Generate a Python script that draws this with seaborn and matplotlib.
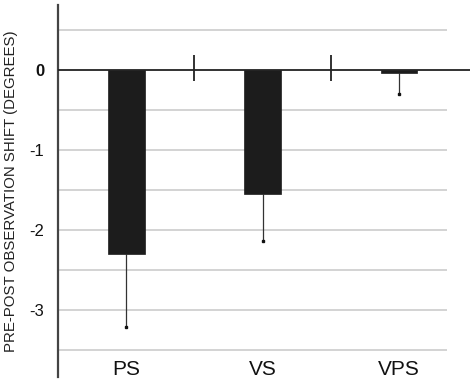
import matplotlib
matplotlib.use("Agg")
import matplotlib.pyplot as plt
import seaborn as sns
import pandas as pd
import numpy as np

conditions = ["PS", "VS", "VPS"]
shift_mean = [-2.30, -1.55, -0.04]
shift_err = [0.92, 0.59, 0.26]
ytick_vals = [0, -1, -2, -3]

sns.set_style("white")
plt.rcParams['font.family'] = ['Liberation Sans', 'DejaVu Sans']

df = pd.DataFrame({"cond": conditions, "shift": shift_mean})

fig = plt.figure(figsize=(4.74, 3.85), dpi=100)
ax = fig.add_axes([58 / 474, 8 / 385, (470 - 58) / 474, (377 - 5) / 385])

# light grid every 0.5, stopping short of the right edge
for g in np.arange(0.5, -3.6, -0.5):
    if abs(g) > 1e-9:
        ax.hlines(g, -0.5, 2.35, color="#cccccc", lw=1.2, zorder=0)
ax.axhline(0, color="#222222", lw=1.3, zorder=3)

sns.barplot(data=df, x="cond", y="shift", color="#1c1c1c", width=0.27,
            saturation=1, errorbar=None, ax=ax, zorder=2,
            edgecolor="#1c1c1c", linewidth=0.5)

x = np.arange(len(conditions))
m = np.array(shift_mean)
e = np.array(shift_err)
ax.vlines(x, m, m - e, color="#333333", lw=0.9, zorder=1)
ax.plot(x, m - e, ls="none", marker="s", ms=2.0, color="#111111", zorder=4)

# category separators crossing the zero line
for sep in x[:-1] + 0.5:
    ax.vlines(sep, -0.14, 0.19, color="#222222", lw=1.3, zorder=3)

for xi, lab in zip(x, conditions):
    ax.text(xi, -3.75, lab, ha="center", va="center", fontsize=15, color="#111111")

ax.set_xlim(-0.5, 2.52)
ax.set_ylim(-3.84, 0.81)
ax.set_xticks([])
ax.set_yticks(ytick_vals)
ax.set_yticklabels([str(v) for v in ytick_vals], fontsize=12, color="#111111")
ax.get_yticklabels()[0].set_fontweight("bold")
ax.tick_params(axis="y", length=0, pad=10)
ax.set_xlabel("")
ax.set_ylabel("PRE-POST OBSERVATION SHIFT (DEGREES)", fontsize=10.8, color="#222222", labelpad=8)

for s in ["top", "right", "bottom"]:
    ax.spines[s].set_visible(False)
ax.spines["left"].set_color("#444444")
ax.spines["left"].set_linewidth(1.6)

fig.savefig("out.png", dpi=100)
